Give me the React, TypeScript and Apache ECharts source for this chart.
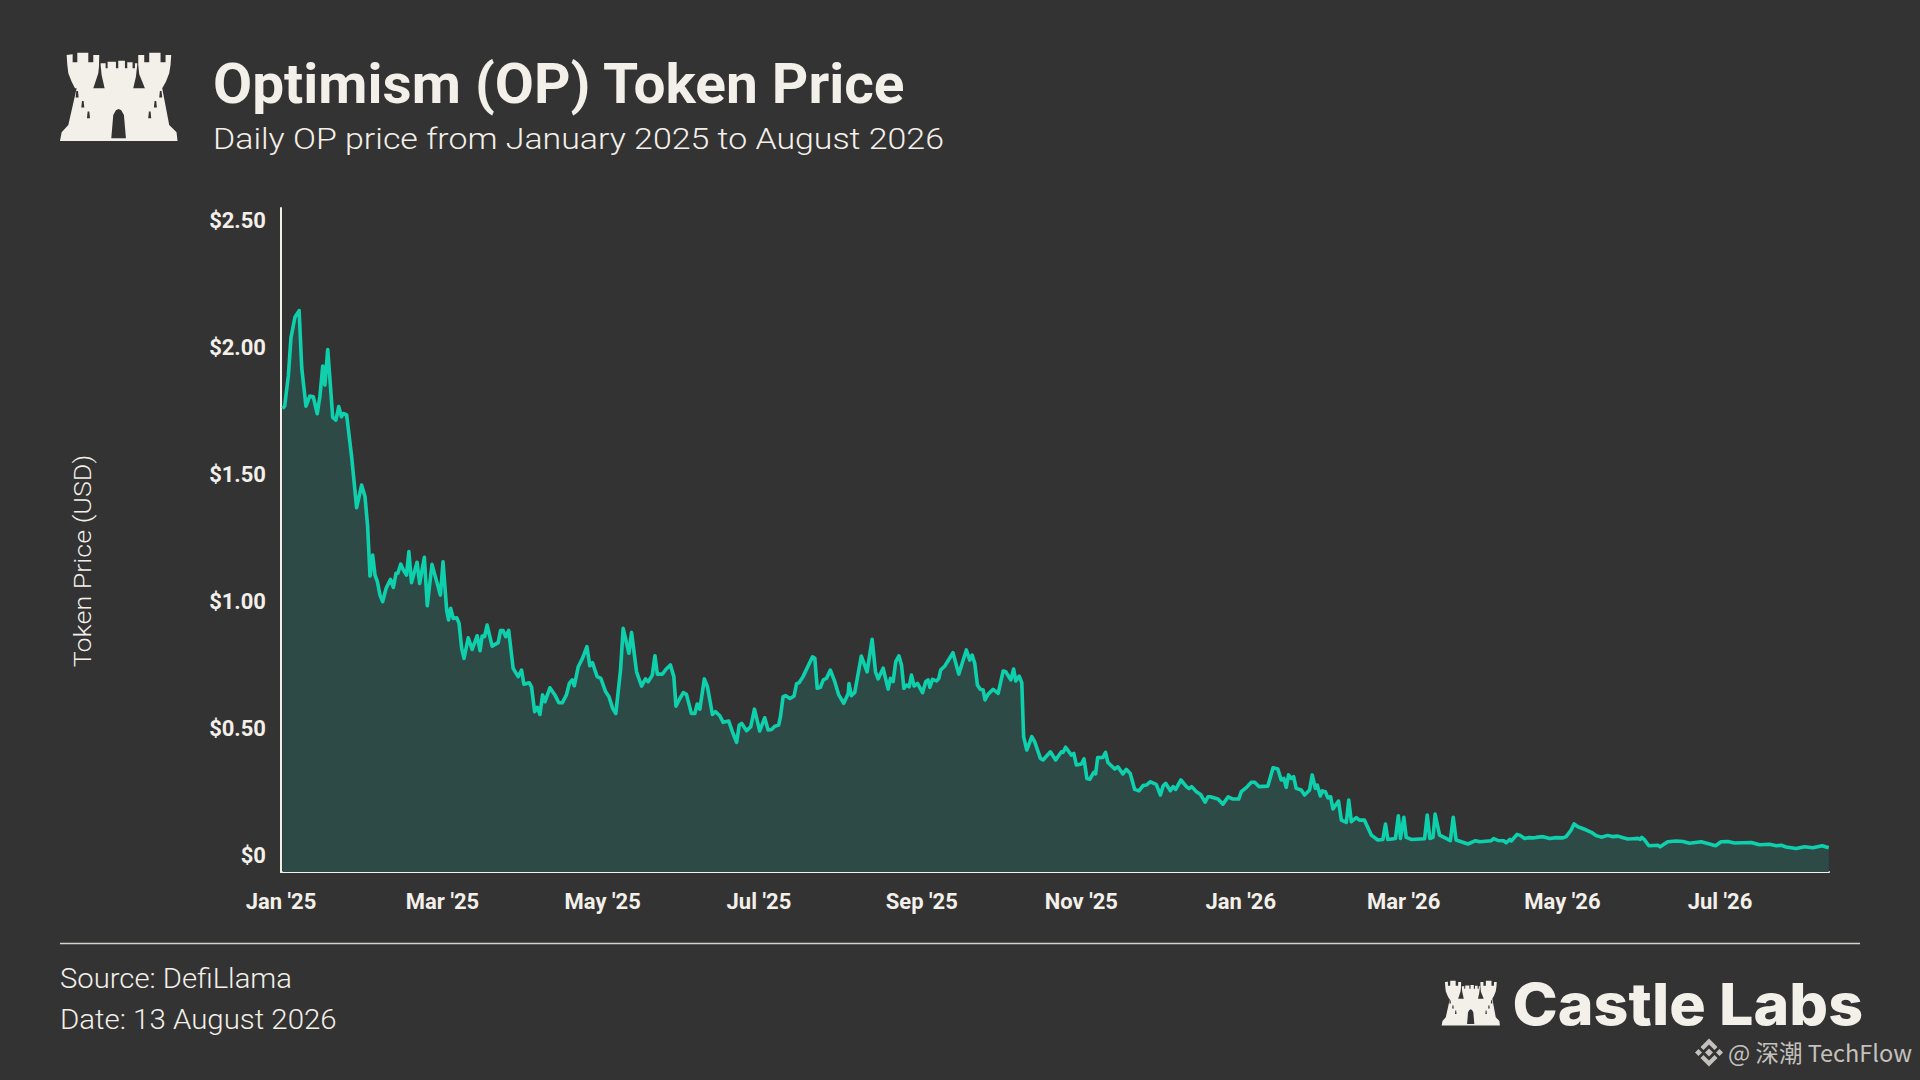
import React, { useEffect, useRef } from "react";
import * as echarts from "echarts";

const BG = "#333333";
const INK = "#f3efe9";
const LINE = "#0fd0ad";
const AREA = "#2e4a46";

// Day offsets from 1 Jan 2025 and the OP price (USD) read at each of them
const days = [
  0.6, 1.4, 2.8, 3.8, 5.3, 6.9, 7.9, 9.5, 11.0, 12.3, 13.8, 14.8, 15.9, 16.7, 17.8, 19.7, 20.9, 22.0, 23.0, 23.7,
  25.0, 26.9, 28.8, 30.7, 32.0, 33.0, 33.9, 34.9, 35.8, 36.7, 37.7, 38.7, 40.0, 41.7, 42.8, 43.8, 44.5, 45.6, 46.6, 47.8,
  48.7, 49.7, 51.8, 52.8, 54.6, 55.7, 57.5, 59.3, 60.7, 61.7, 63.1, 63.8, 64.6, 65.6, 66.9, 67.8, 68.8, 69.7, 71.3, 72.8,
  74.7, 75.8, 76.6, 77.5, 78.5, 80.4, 82.7, 83.6, 84.6, 85.6, 86.7, 88.4, 90.3, 91.6, 92.5, 94.5, 95.4, 96.6, 97.6, 98.6,
  99.6, 100.5, 102.4, 104.3, 105.8, 107.1, 108.7, 109.8, 110.9, 111.7, 113.2, 114.8, 116.5, 117.6, 118.6, 120.4, 121.8, 123.6, 124.9, 126.3,
  127.5, 129.3, 130.3, 132.5, 133.5, 135.4, 137.3, 138.8, 139.8, 141.4, 142.4, 143.3, 145.3, 146.6, 148.3, 149.6, 150.4, 151.9, 153.2, 154.4,
  156.3, 157.6, 158.5, 159.5, 161.2, 162.4, 164.3, 165.5, 167.1, 168.4, 170.5, 171.9, 173.5, 174.5, 175.4, 177.3, 178.9, 180.3, 182.3, 184.2,
  185.5, 186.8, 188.1, 189.5, 190.2, 191.2, 192.2, 193.8, 195.4, 196.3, 197.3, 198.8, 202.4, 203.3, 204.2, 205.4, 206.5, 207.7, 209.2, 210.9,
  212.4, 214.3, 216.0, 216.3, 217.2, 218.5, 221.0, 223.2, 225.1, 226.4, 227.4, 229.3, 231.2, 232.1, 233.1, 234.1, 235.3, 236.3, 237.2, 238.2,
  239.2, 240.1, 241.1, 242.4, 244.3, 245.5, 246.4, 247.1, 248.1, 249.6, 250.5, 251.2, 252.8, 255.9, 258.1, 261.0, 262.3, 263.2, 264.2, 265.2,
  266.3, 267.4, 268.1, 269.3, 271.2, 273.1, 275.0, 276.0, 277.9, 279.0, 279.8, 281.1, 282.1, 282.8, 284.0, 285.9, 287.0, 289.2, 290.2, 293.0,
  295.0, 297.2, 297.8, 298.8, 301.0, 301.9, 302.9, 304.8, 305.8, 306.9, 308.0, 309.5, 310.2, 311.0, 313.0, 314.0, 314.9, 317.5, 318.7, 320.6,
  321.9, 323.4, 325.1, 326.7, 328.3, 329.5, 331.1, 333.3, 334.9, 335.9, 336.9, 338.7, 339.7, 340.7, 342.7, 344.8, 345.8, 346.8, 348.6, 350.2,
  351.9, 353.0, 353.9, 356.8, 358.7, 360.7, 362.5, 364.7, 365.7, 367.6, 369.5, 370.8, 372.4, 375.8, 377.8, 379.6, 380.9, 381.9, 382.8, 383.7,
  384.7, 385.6, 386.6, 388.5, 389.8, 391.7, 392.7, 393.9, 394.6, 395.8, 396.5, 397.7, 398.7, 399.7, 400.6, 402.7, 403.8, 405.7, 406.6, 407.6,
  409.5, 410.7, 412.6, 415.2, 417.7, 419.6, 420.6, 421.5, 424.4, 425.5, 426.3, 427.6, 428.5, 430.4, 435.5, 436.5, 437.5, 438.7, 439.5, 441.2,
  443.7, 445.3, 446.4, 447.5, 452.0, 454.9, 456.5, 460.9, 461.8, 463.4, 465.6, 466.6, 467.9, 468.5, 470.7, 471.9, 473.6, 474.9, 476.8, 478.0,
  480.6, 483.1, 485.6, 488.2, 489.4, 491.3, 492.4, 493.9, 497.1, 499.0, 500.9, 502.8, 505.3, 507.2, 509.1, 510.8, 512.9, 514.8, 516.7, 517.6,
  518.2, 519.3, 520.9, 524.3, 525.2, 528.1, 531.3, 533.9, 536.4, 540.8, 544.0, 546.3, 548.4, 551.0, 553.5, 556.7, 559.9, 563.0, 566.8, 569.4,
  571.3, 573.2, 577.0, 580.2, 583.3, 586.9, 589.4,
];
const prices = [
  1.76, 1.77, 1.89, 2.04, 2.12, 2.146, 1.92, 1.77, 1.81, 1.807, 1.74, 1.807, 1.928, 1.853, 1.993, 1.726, 1.715, 1.768, 1.728, 1.741,
  1.735, 1.571, 1.37, 1.459, 1.413, 1.295, 1.101, 1.184, 1.105, 1.079, 1.026, 1.0, 1.052, 1.088, 1.056, 1.112, 1.112, 1.148, 1.125, 1.105,
  1.197, 1.075, 1.155, 1.072, 1.175, 0.984, 1.147, 1.079, 1.026, 1.157, 0.967, 0.928, 0.974, 0.934, 0.937, 0.915, 0.816, 0.777, 0.858, 0.812,
  0.866, 0.807, 0.865, 0.862, 0.908, 0.825, 0.839, 0.886, 0.886, 0.862, 0.887, 0.738, 0.705, 0.731, 0.675, 0.681, 0.665, 0.567, 0.584, 0.556,
  0.633, 0.606, 0.661, 0.633, 0.602, 0.602, 0.633, 0.678, 0.692, 0.669, 0.744, 0.777, 0.823, 0.748, 0.76, 0.705, 0.698, 0.646, 0.626, 0.58,
  0.56, 0.731, 0.895, 0.797, 0.879, 0.724, 0.668, 0.696, 0.685, 0.711, 0.787, 0.715, 0.715, 0.734, 0.751, 0.705, 0.589, 0.619, 0.642, 0.635,
  0.56, 0.56, 0.597, 0.577, 0.696, 0.665, 0.556, 0.567, 0.551, 0.525, 0.53, 0.488, 0.446, 0.514, 0.521, 0.492, 0.508, 0.577, 0.491, 0.543,
  0.495, 0.497, 0.51, 0.514, 0.547, 0.626, 0.63, 0.619, 0.629, 0.676, 0.681, 0.705, 0.783, 0.777, 0.659, 0.663, 0.692, 0.698, 0.731, 0.685,
  0.633, 0.6, 0.639, 0.678, 0.63, 0.643, 0.786, 0.724, 0.852, 0.724, 0.696, 0.738, 0.656, 0.698, 0.685, 0.764, 0.787, 0.751, 0.659, 0.672,
  0.665, 0.711, 0.668, 0.678, 0.642, 0.685, 0.692, 0.663, 0.694, 0.688, 0.698, 0.731, 0.747, 0.799, 0.715, 0.81, 0.77, 0.79, 0.757, 0.672,
  0.655, 0.652, 0.613, 0.636, 0.655, 0.639, 0.727, 0.724, 0.692, 0.735, 0.688, 0.707, 0.681, 0.469, 0.416, 0.469, 0.449, 0.383, 0.377, 0.409,
  0.377, 0.409, 0.407, 0.427, 0.396, 0.403, 0.357, 0.361, 0.381, 0.304, 0.301, 0.328, 0.322, 0.386, 0.387, 0.407, 0.367, 0.341, 0.35, 0.322,
  0.34, 0.324, 0.261, 0.255, 0.276, 0.278, 0.291, 0.281, 0.239, 0.274, 0.285, 0.256, 0.272, 0.261, 0.298, 0.272, 0.264, 0.272, 0.252, 0.241,
  0.211, 0.232, 0.232, 0.223, 0.203, 0.232, 0.223, 0.223, 0.252, 0.268, 0.289, 0.289, 0.272, 0.274, 0.346, 0.341, 0.298, 0.304, 0.269, 0.318,
  0.304, 0.311, 0.265, 0.259, 0.239, 0.259, 0.318, 0.265, 0.278, 0.235, 0.255, 0.252, 0.228, 0.232, 0.184, 0.215, 0.14, 0.131, 0.219, 0.134,
  0.15, 0.14, 0.14, 0.081, 0.062, 0.064, 0.125, 0.064, 0.068, 0.157, 0.068, 0.151, 0.072, 0.064, 0.067, 0.16, 0.068, 0.072, 0.164, 0.081,
  0.068, 0.059, 0.151, 0.062, 0.046, 0.059, 0.055, 0.059, 0.067, 0.06, 0.059, 0.051, 0.064, 0.058, 0.084, 0.08, 0.068, 0.071, 0.07, 0.072,
  0.075, 0.068, 0.071, 0.07, 0.075, 0.101, 0.125, 0.114, 0.101, 0.092, 0.079, 0.073, 0.08, 0.075, 0.077, 0.072, 0.066, 0.067, 0.068, 0.064,
  0.072, 0.062, 0.039, 0.041, 0.035, 0.055, 0.058, 0.056, 0.049, 0.055, 0.046, 0.039, 0.055, 0.056, 0.05, 0.051, 0.052, 0.043, 0.045, 0.039,
  0.041, 0.034, 0.028, 0.035, 0.031, 0.039, 0.031,
];

const xLabelDays = [0, 61.5, 122.5, 182, 244, 304.8, 365.5, 427.5, 488, 548];
const xLabels = ["Jan '25", "Mar '25", "May '25", "Jul '25", "Sep '25", "Nov '25", "Jan '26", "Mar '26", "May '26", "Jul '26"];
const yTicks = [0, 0.5, 1, 1.5, 2, 2.5];
const yLabels = ["$0", "$0.50", "$1.00", "$1.50", "$2.00", "$2.50"];

const CASTLE =
  "M30 288 L35 262 L55 240 L80 130 L75 130 L65 110 L55 85 L52 60 L50 30 L68 28 L68 52 L82 52 L82 23 L115 23 L115 52 L130 52 L130 30 L148 30 " +
  "L147 65 L145 85 L130 130 L164 130 L155 90 L152 60 L152 55 L167 55 L167 70 L173 70 L173 50 L198 50 L198 70 L205 70 L205 47 L225 47 L225 70 L232 70 L232 52 L248 52 L248 70 L255 70 L255 55 L262 55 " +
  "L262 60 L258 95 L250 130 L285 130 L268 88 L265 60 L265 30 L283 30 L283 52 L298 52 L298 23 L332 23 L332 52 L347 52 L347 30 L364 30 L362 60 L358 85 L348 110 L337 130 L358 240 L380 262 L383 288 Z " +
  "M184 280 L228 280 L222 210 L214 196 L206 192 L198 196 L190 210 Z " +
  "M77 158 L86 158 L84 138 L79 138 Z M94 188 L103 188 L101 168 L96 168 Z M111 220 L120 220 L118 200 L113 200 Z " +
  "M328 158 L337 158 L335 138 L330 138 Z M312 188 L321 188 L319 168 L314 168 Z M295 220 L304 220 L302 200 L297 200 Z";
const BINANCE =
  "M0 -4 L4 0 L0 4 L-4 0 Z M-14 0 L-10.5 -3.5 L-7 0 L-10.5 3.5 Z M14 0 L10.5 3.5 L7 0 L10.5 -3.5 Z " +
  "M0 -14 L8.5 -5.5 L5.5 -2.5 L0 -8 L-5.5 -2.5 L-8.5 -5.5 Z M0 14 L-8.5 5.5 L-5.5 2.5 L0 8 L5.5 2.5 L8.5 5.5 Z";

echarts.graphic.registerShape("castle", echarts.graphic.extendPath(CASTLE, {}) as any);
echarts.graphic.registerShape("binanceMark", echarts.graphic.extendPath(BINANCE, {}) as any);

const FONT = "Roboto";

function txt(text: string, x: number, y: number, fontSize: number, fontWeight: any, scaleX = 1, extra: any = {}) {
  return {
    type: "text",
    x,
    y,
    scaleX,
    silent: true,
    style: { text, fontSize, fontWeight, fontFamily: FONT, fill: INK, textAlign: "left", verticalAlign: "middle", ...extra },
  };
}

export default function App() {
  const ref = useRef<HTMLDivElement>(null);
  useEffect(() => {
    const chart = echarts.init(ref.current!, null, { renderer: "svg" });
    chart.setOption({
      animation: false,
      backgroundColor: BG,
      grid: { left: 281, top: 208, width: 1548, height: 664, containLabel: false },
      xAxis: {
        type: "value",
        min: 0,
        max: 589.5,
        splitLine: { show: false },
        axisTick: { show: false },
        axisLine: { show: true, onZero: false, lineStyle: { color: INK, width: 2 } },
        axisLabel: {
          customValues: xLabelDays,
          margin: 18,
          color: INK,
          fontFamily: FONT,
          fontWeight: "bold",
          fontSize: 22,
          hideOverlap: false,
          formatter: (v: number) => xLabels[xLabelDays.indexOf(v)] ?? "",
        },
      },
      yAxis: {
        type: "value",
        min: -0.0642,
        max: 2.55,
        splitLine: { show: false },
        axisTick: { show: false },
        axisLine: { show: true, onZero: false, lineStyle: { color: INK, width: 2 } },
        axisLabel: {
          customValues: yTicks,
          margin: 15,
          color: INK,
          fontFamily: FONT,
          fontWeight: "bold",
          fontSize: 22,
          formatter: (v: number) => yLabels[yTicks.indexOf(v)] ?? "",
        },
      },
      series: [
        {
          type: "line",
          data: days.map((d, i) => [d, prices[i]]),
          showSymbol: false,
          smooth: false,
          lineStyle: { color: LINE, width: 3.6, join: "round" },
          areaStyle: { color: AREA, opacity: 1, origin: "start" },
          z: 1,
        },
      ],
      graphic: [
        { type: "castle", x: 50, y: 45, scaleX: 1 / 3, scaleY: 1 / 3, silent: true, style: { fill: INK } },
        txt("Optimism (OP) Token Price", 213, 84, 56, "bold", 1.014),
        txt("Daily OP price from January 2025 to August 2026", 213, 139, 30, 300, 1.13),
        { type: "text", x: 83, y: 561, rotation: Math.PI / 2, scaleX: 1.12, silent: true, style: { text: "Token Price (USD)", fontSize: 24, fontWeight: 300, fontFamily: FONT, fill: INK, textAlign: "center", verticalAlign: "middle" } },
        { type: "line", silent: true, shape: { x1: 60, y1: 943.5, x2: 1860, y2: 943.5 }, style: { stroke: "#d6d2cc", lineWidth: 1.5 } },
        txt("Source: DefiLlama", 60, 978, 28, 300, 1.044),
        txt("Date: 13 August 2026", 60, 1019, 28, 300, 1.051),
        { type: "castle", x: 1436.7, y: 977, scaleX: 0.165, scaleY: 0.168, silent: true, style: { fill: INK } },
        { ...txt("Castle Labs", 1512.5, 1003.5, 58, 800, 1.05, { fontFamily: "Inter" }) },
        { type: "binanceMark", x: 1709, y: 1052.5, silent: true, style: { fill: "#c4c1bc" } },
        { ...txt("@ 深潮 TechFlow", 1728, 1052, 23.5, 400, 1, { fontFamily: "Noto Sans CJK SC", fill: "#c4c1bc" }) },
      ],
    });
    return () => chart.dispose();
  }, []);
  return <div ref={ref} style={{ position: "absolute", left: 0, top: 0, width: 1920, height: 1080 }} />;
}
